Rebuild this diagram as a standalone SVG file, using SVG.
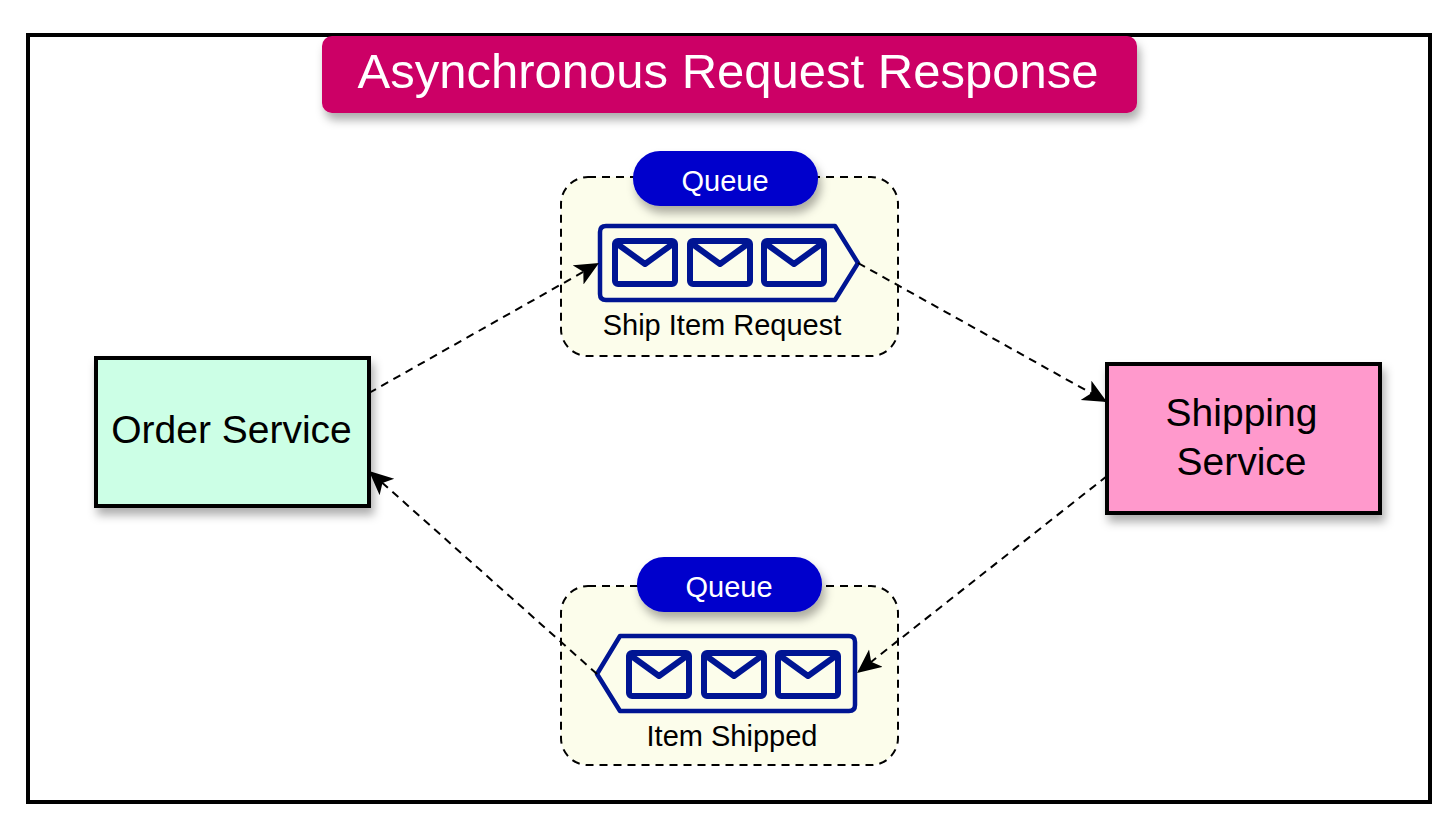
<svg xmlns="http://www.w3.org/2000/svg" width="1456" height="827" viewBox="0 0 1456 827">
<style>
text{font-family:"Liberation Sans",Arial,sans-serif;text-anchor:middle}
.svc{stroke:#000;stroke-width:4;filter:url(#sh)}
.box{fill:#FCFDEB;stroke:#000;stroke-width:2;stroke-dasharray:8 6}
.pill{fill:#0000CC;filter:url(#sh)}
.q{fill:none;stroke:#001593;stroke-width:4.500;stroke-linejoin:round}
.env{fill:none;stroke:#001593;stroke-width:6;stroke-linejoin:round}
.lnk{fill:none;stroke:#000;stroke-width:2;stroke-dasharray:8 6;marker-end:url(#arr)}
</style>
<defs>
<filter id="sh" x="-10%" y="-20%" width="120%" height="160%"><feDropShadow dx="3" dy="7" stdDeviation="5" flood-color="#000" flood-opacity="0.32"/></filter>
<marker id="arr" markerUnits="userSpaceOnUse" markerWidth="26" markerHeight="24" refX="24" refY="11" orient="auto"><path d="M0 0L24 11L0 22L6 11Z" fill="#000"/></marker>
<g id="envelope"><rect x="3" y="3" width="60" height="43" rx="3" class="env"/><path d="M4 5L33 26L62 5" class="env"/></g>
</defs>
<rect width="1456" height="827" fill="#fff"/>
<rect id="frame" x="28" y="35" width="1402" height="767" fill="none" stroke="#000" stroke-width="4"/>
<g id="title"><rect x="322" y="36" width="815" height="77" rx="10" fill="#CC0066" filter="url(#sh)"/><text x="728" y="88" font-size="49" fill="#fff">Asynchronous Request Response</text></g>
<g id="order-service"><rect x="96" y="358" width="273" height="148" fill="#CCFFE6" class="svc"/><text x="231.500" y="443" font-size="39">Order Service</text></g>
<g id="shipping-service"><rect x="1107" y="364" width="273" height="149" fill="#FF99CC" class="svc"/><text x="1241.500" y="426" font-size="39">Shipping</text><text x="1241.500" y="475" font-size="39">Service</text></g>
<g id="queue-request">
<rect x="561" y="177" width="337" height="179" rx="27" class="box"/>
<rect x="633" y="151" width="185" height="55" rx="27" class="pill"/>
<text x="725" y="191" font-size="29" fill="#fff">Queue</text>
<path d="M606 226H835L858 263L835 300H606Q600 300 600 294V232Q600 226 606 226Z" class="q"/>
<use href="#envelope" x="612" y="238"/><use href="#envelope" x="687" y="238"/><use href="#envelope" x="761" y="238"/>
<text x="722" y="335" font-size="29">Ship Item Request</text>
</g>
<g id="queue-shipped">
<rect x="561" y="586" width="337" height="179" rx="27" class="box"/>
<rect x="637" y="557" width="185" height="55" rx="27" class="pill"/>
<text x="729" y="597" font-size="29" fill="#fff">Queue</text>
<path d="M849 636H620L597 674L620 711H849Q855 711 855 705V642Q855 636 849 636Z" class="q"/>
<use href="#envelope" x="626" y="650"/><use href="#envelope" x="701" y="650"/><use href="#envelope" x="775" y="650"/>
<text x="732" y="746" font-size="29">Item Shipped</text>
</g>
<g id="connectors">
<path d="M369 393L599 263" class="lnk"/>
<path d="M858 263L1107 402" class="lnk"/>
<path d="M1107 476L857 673" class="lnk"/>
<path d="M597 674L369 471" class="lnk"/>
</g>
</svg>
